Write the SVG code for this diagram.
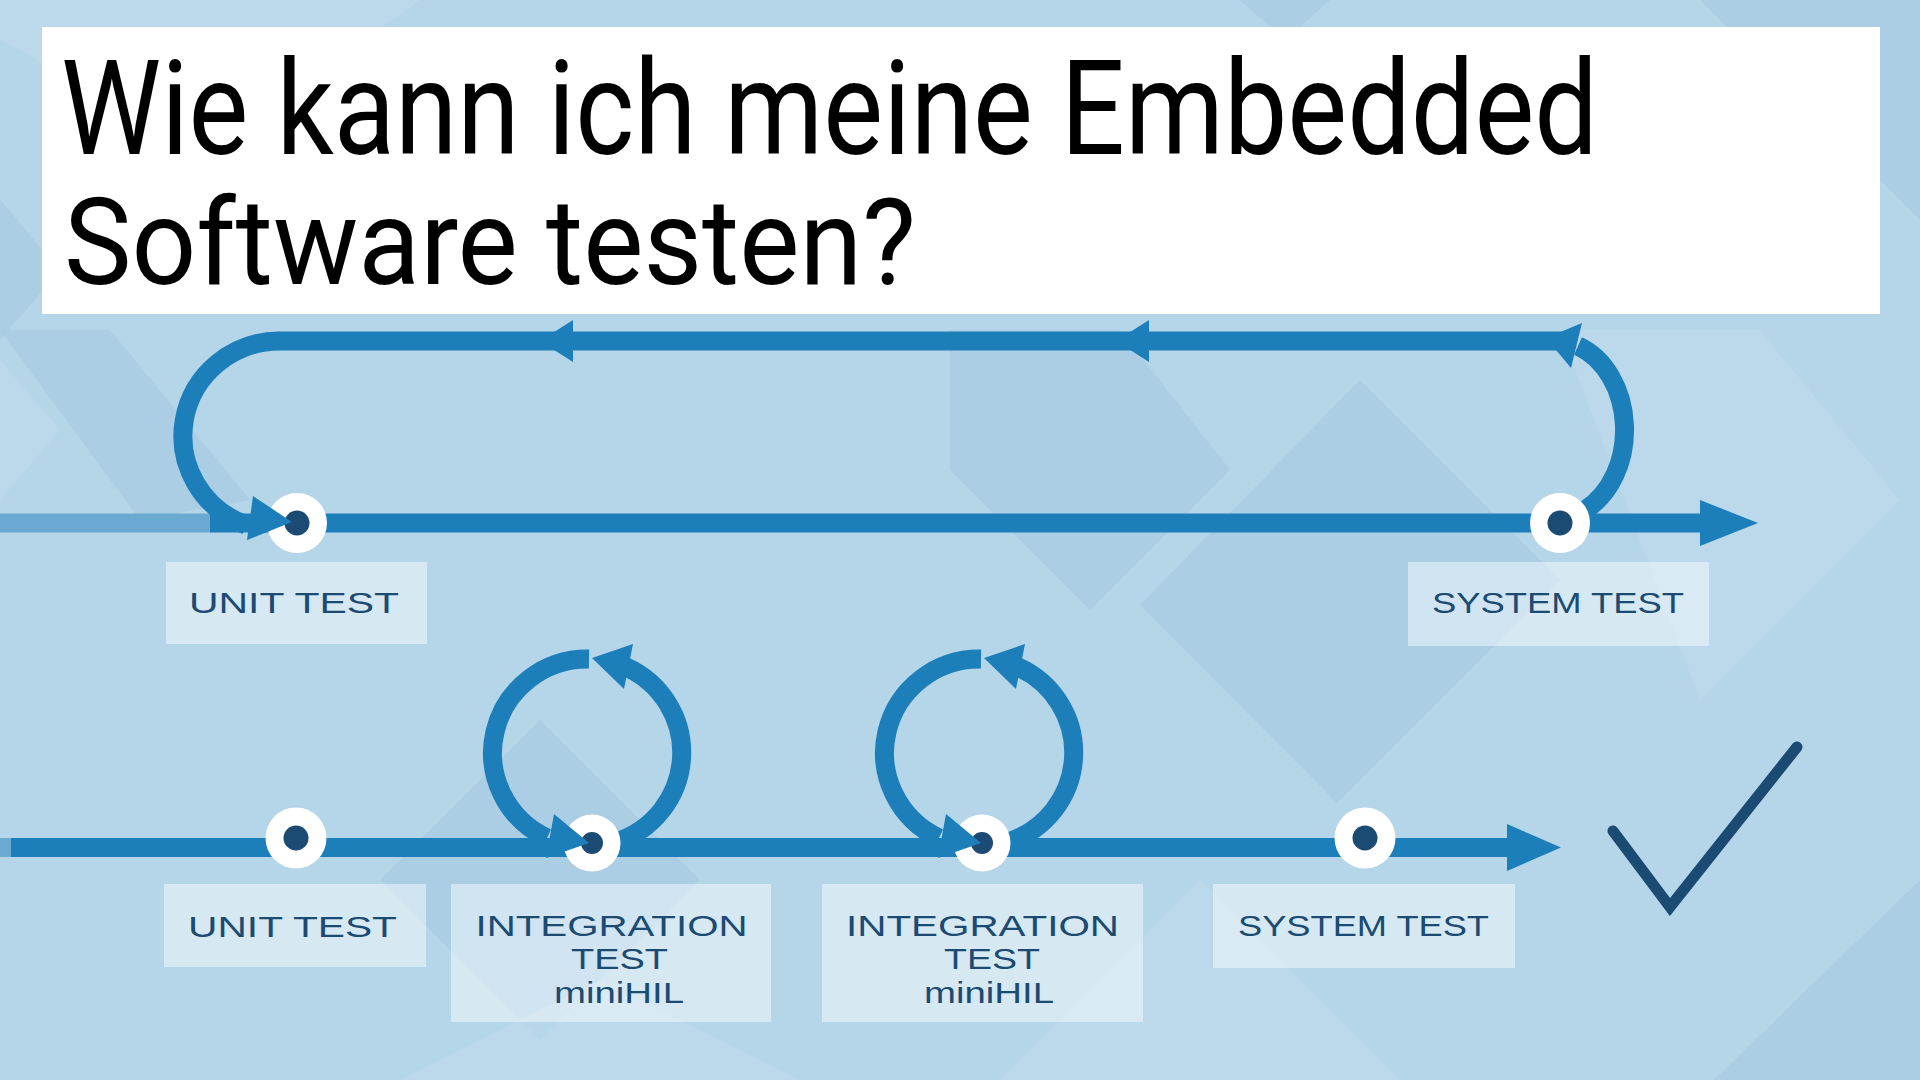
<svg xmlns="http://www.w3.org/2000/svg" width="1920" height="1080" viewBox="0 0 1920 1080">
  <defs>
    <style>
      .bgd { fill: #a3c8e1; opacity: 0.55; }
      .bgl { fill: #c2deee; opacity: 0.5; }
      .line { stroke: #1d7fba; stroke-width: 19; fill: none; }
      .lineL { stroke: #6aaad2; stroke-width: 19; fill: none; }
      .head { fill: #1d7fba; }
      .ring { fill: #ffffff; }
      .dot { fill: #1b4a73; }
      .box { fill: #ffffff; fill-opacity: 0.45; }
      .lbl { font-family: "Liberation Sans", Arial, sans-serif; font-size: 30px; fill: #1b4a73; }
      .title { font-family: Roboto, "Liberation Sans", sans-serif; fill: #000000; }
    </style>
  </defs>

  <!-- background -->
  <g id="background">
    <rect x="0" y="0" width="1920" height="1080" fill="#b5d5e8"/>
    <polygon class="bgd" points="1700,0 1920,0 1920,220"/>
    <polygon class="bgd" points="1240,0 1330,0 1285,40"/>
    <polygon class="bgl" points="0,0 420,0 210,150 0,40"/>
    <polygon class="bgd" points="0,200 60,270 0,340"/>
    <polygon class="bgd" points="0,330 110,330 250,500 140,520"/>
    <polygon class="bgl" points="0,360 60,430 0,500"/>
    <polygon class="bgd" points="950,330 1120,330 1230,470 1090,610 950,470"/>
    <polygon class="bgd" points="1140,605 1337,803 1560,580 1360,380"/>
    <polygon class="bgl" points="1560,330 1760,330 1900,500 1700,700"/>
    <polygon class="bgd" points="540,720 700,880 540,1040 380,880"/>
    <polygon class="bgl" points="600,980 800,1080 400,1080"/>
    <polygon class="bgd" points="1714,1080 1920,880 1920,1080"/>
    <polygon class="bgl" points="1000,1080 1200,880 1400,1080"/>
  </g>

  <!-- title -->
  <g id="title">
    <rect x="42" y="27" width="1838" height="287" fill="#ffffff"/>
    <text class="title" x="61" y="154" font-size="131" textLength="1537" lengthAdjust="spacingAndGlyphs">Wie kann ich meine Embedded</text>
    <text class="title" x="64" y="284" font-size="120" textLength="852" lengthAdjust="spacingAndGlyphs">Software testen?</text>
  </g>

  <!-- connectors -->
  <g id="connectors">
    <!-- upper flow -->
    <line class="lineL" x1="0" y1="523" x2="211" y2="523"/>
    <line class="line" x1="210" y1="523" x2="1705" y2="523"/>
    <polygon class="head" points="1700,500 1758,523 1700,546"/>
    <!-- upper feedback loop -->
    <line class="line" x1="278" y1="341" x2="1566" y2="341"/>
    <polygon class="head" points="573,320 540,341 573,362"/>
    <polygon class="head" points="1149,320 1116,341 1149,362"/>
    <path class="line" d="M 1585,510 A 70 89 0 0 0 1578,346"/>
    <polygon class="head" points="1582,323 1546,338 1571,368"/>
    <path class="line" d="M 279,341 A 97 95 0 0 0 246,525"/>

    <!-- lower flow -->
    <line class="lineL" x1="0" y1="847.5" x2="12" y2="847.5"/>
    <line class="line" x1="11" y1="847.5" x2="1510" y2="847.5"/>
    <polygon class="head" points="1507,824 1561,847.5 1507,871"/>
    <!-- loop 1 -->
    <g id="loop1">
      <path class="line" d="M 616,842 A 95 94 0 0 0 626,667"/>
      <polygon class="head" points="633,644 592,658 624,689"/>
      <path class="line" d="M 589,659 A 95 94 0 0 0 547,838"/>
    </g>
    <!-- loop 2 -->
    <g id="loop2" transform="translate(392,0)">
      <path class="line" d="M 616,842 A 95 94 0 0 0 626,667"/>
      <polygon class="head" points="633,644 592,658 624,689"/>
      <path class="line" d="M 589,659 A 95 94 0 0 0 547,838"/>
    </g>
  </g>

  <!-- upper nodes -->
  <g id="node-unit-test-1">
    <circle class="ring" cx="297" cy="523" r="30"/>
    <circle class="dot" cx="297" cy="523" r="12.5"/>
    <polygon class="head" points="253,496 292,522 247,540"/>
    <rect class="box" x="166" y="562" width="261" height="82"/>
    <text class="lbl" x="189" y="613" textLength="210" lengthAdjust="spacingAndGlyphs">UNIT TEST</text>
  </g>
  <g id="node-system-test-1">
    <circle class="ring" cx="1560" cy="523" r="30"/>
    <circle class="dot" cx="1560" cy="523" r="12.5"/>
    <rect class="box" x="1408" y="562" width="301" height="84"/>
    <text class="lbl" x="1432" y="613" textLength="252" lengthAdjust="spacingAndGlyphs">SYSTEM TEST</text>
  </g>

  <!-- lower nodes -->
  <g id="node-unit-test-2">
    <circle class="ring" cx="296" cy="838" r="30.5"/>
    <circle class="dot" cx="296" cy="838" r="12.5"/>
    <rect class="box" x="164" y="884" width="262" height="83"/>
    <text class="lbl" x="188" y="937" textLength="209" lengthAdjust="spacingAndGlyphs">UNIT TEST</text>
  </g>
  <g id="node-integration-test-1">
    <circle class="ring" cx="592" cy="843" r="28.5"/>
    <circle class="dot" cx="592" cy="843" r="11"/>
    <polygon class="head" points="554,814 589,843 546,858"/>
    <rect class="box" x="451" y="884" width="320" height="138"/>
    <text class="lbl" x="475.5" y="936" textLength="272" lengthAdjust="spacingAndGlyphs">INTEGRATION</text>
    <text class="lbl" x="571" y="969" textLength="97" lengthAdjust="spacingAndGlyphs">TEST</text>
    <text class="lbl" x="554" y="1003" textLength="130" lengthAdjust="spacingAndGlyphs">miniHIL</text>
  </g>
  <g id="node-integration-test-2">
    <circle class="ring" cx="982" cy="843" r="28.5"/>
    <circle class="dot" cx="982" cy="843" r="11"/>
    <polygon class="head" points="946,814 981,843 938,858"/>
    <rect class="box" x="822" y="884" width="321" height="138"/>
    <text class="lbl" x="846" y="936" textLength="273" lengthAdjust="spacingAndGlyphs">INTEGRATION</text>
    <text class="lbl" x="944" y="969" textLength="96" lengthAdjust="spacingAndGlyphs">TEST</text>
    <text class="lbl" x="924" y="1003" textLength="130" lengthAdjust="spacingAndGlyphs">miniHIL</text>
  </g>
  <g id="node-system-test-2">
    <circle class="ring" cx="1365" cy="838" r="30.5"/>
    <circle class="dot" cx="1365" cy="838" r="12.5"/>
    <rect class="box" x="1213" y="884" width="302" height="84"/>
    <text class="lbl" x="1238" y="936" textLength="251" lengthAdjust="spacingAndGlyphs">SYSTEM TEST</text>
  </g>

  <!-- check mark -->
  <g id="checkmark">
    <polyline points="1613,831 1670,907 1797,747" fill="none" stroke="#1b4a73" stroke-width="11" stroke-linecap="round" stroke-linejoin="miter" stroke-miterlimit="10"/>
  </g>
</svg>
